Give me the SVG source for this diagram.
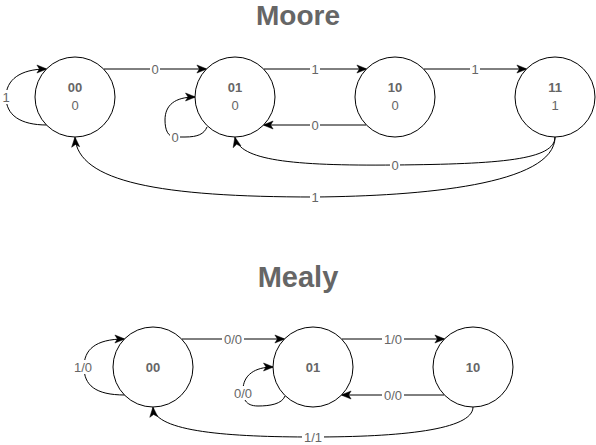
<svg xmlns="http://www.w3.org/2000/svg" width="596" height="445" viewBox="0 0 596 445">
<style>
.title{font-family:"Liberation Sans",Arial,sans-serif;font-weight:bold;font-size:28px;fill:#666666;text-anchor:middle}
.state{fill:#ffffff;stroke:#000000;stroke-width:1}
.nm{font-family:"Liberation Sans",Arial,sans-serif;font-weight:bold;font-size:13px;fill:#666666;text-anchor:middle}
.out{font-family:"Liberation Sans",Arial,sans-serif;font-size:13px;fill:#666666;text-anchor:middle}
.edge{fill:none;stroke:#000000;stroke-width:1}
.lbl{font-family:"Liberation Sans",Arial,sans-serif;font-size:13px;fill:#666666;text-anchor:middle}
.bg{fill:#ffffff}
</style>
<defs>
<marker id="arr" markerUnits="userSpaceOnUse" markerWidth="10" markerHeight="8" refX="9.5" refY="4" orient="auto" overflow="visible">
<path d="M0,0 L10,4 L0,8 L2.5,4 Z" fill="#000000" stroke="#000000" stroke-width="0.5"/>
</marker>
</defs>

<text class="title" x="298" y="25">Moore</text>
<text class="title" x="298" y="287" style="font-size:29px">Mealy</text>

<g id="connectors">
<!-- Moore -->
<path class="edge" d="M103.6,69 L206.4,69" marker-end="url(#arr)"/>
<path class="edge" d="M263.6,69 L366.4,69" marker-end="url(#arr)"/>
<path class="edge" d="M423.6,69 L526.4,69" marker-end="url(#arr)"/>
<path class="edge" d="M366.4,125 L263.6,125" marker-end="url(#arr)"/>
<path class="edge" d="M555,137 C555,160 500,164 395,165 C290,166 240,160 235,137.5" marker-end="url(#arr)"/>
<path class="edge" d="M555,137 C555,185 420,196 315,197 C160,197 78,182 75,137.5" marker-end="url(#arr)"/>
<path class="edge" d="M47,125 C20,125 6,115 6,97 C6,80 20,69 46.4,69" marker-end="url(#arr)"/>
<path class="edge" d="M207,127 C204,134 198,137 185,137 L175,137 C168,137 165,130 165,120 C165,105 175,97 195,97" marker-end="url(#arr)"/>
<!-- Mealy -->
<path class="edge" d="M181.6,339 L284.4,339" marker-end="url(#arr)"/>
<path class="edge" d="M341.6,339 L444.4,339" marker-end="url(#arr)"/>
<path class="edge" d="M444.4,395 L341.6,395" marker-end="url(#arr)"/>
<path class="edge" d="M473,407 C473,430 400,437 313,437 C230,437 155,432 153,407.5" marker-end="url(#arr)"/>
<path class="edge" d="M125,395 C95,395 84,385 84,367 C84,350 95,339 124.4,339" marker-end="url(#arr)"/>
<path class="edge" d="M285,396 C282,404 270,406 258,406 C245,406 243,398 243,390 C243,375 255,367 273,367" marker-end="url(#arr)"/>

<!-- labels -->
<rect class="bg" x="150" y="62" width="10" height="14"/><text class="lbl" x="155" y="73.5">0</text>
<rect class="bg" x="310" y="62" width="10" height="14"/><text class="lbl" x="315" y="73.5">1</text>
<rect class="bg" x="470" y="62" width="10" height="14"/><text class="lbl" x="475" y="73.5">1</text>
<rect class="bg" x="310" y="118" width="10" height="14"/><text class="lbl" x="315" y="129.5">0</text>
<rect class="bg" x="390" y="158" width="10" height="14"/><text class="lbl" x="395" y="169.5">0</text>
<rect class="bg" x="310" y="190" width="10" height="14"/><text class="lbl" x="315" y="201.5">1</text>
<rect class="bg" x="1" y="90" width="10" height="14"/><text class="lbl" x="6" y="101.5">1</text>
<rect class="bg" x="170" y="130" width="10" height="14"/><text class="lbl" x="175" y="141.5">0</text>

<rect class="bg" x="222" y="332" width="22" height="14"/><text class="lbl" x="233" y="343.5">0/0</text>
<rect class="bg" x="382" y="332" width="22" height="14"/><text class="lbl" x="393" y="343.5">1/0</text>
<rect class="bg" x="382" y="388" width="22" height="14"/><text class="lbl" x="393" y="399.5">0/0</text>
<rect class="bg" x="302" y="430" width="22" height="14"/><text class="lbl" x="313" y="441.5">1/1</text>
<rect class="bg" x="72" y="360" width="22" height="14"/><text class="lbl" x="83" y="371.5">1/0</text>
<rect class="bg" x="232" y="386" width="22" height="14"/><text class="lbl" x="243" y="397.5">0/0</text>
</g>

<g id="moore-00"><circle class="state" cx="75" cy="97" r="40"/><text class="nm" x="75" y="91.5">00</text><text class="out" x="75" y="109.5">0</text></g>
<g id="moore-01"><circle class="state" cx="235" cy="97" r="40"/><text class="nm" x="235" y="91.5">01</text><text class="out" x="235" y="109.5">0</text></g>
<g id="moore-10"><circle class="state" cx="395" cy="97" r="40"/><text class="nm" x="395" y="91.5">10</text><text class="out" x="395" y="109.5">0</text></g>
<g id="moore-11"><circle class="state" cx="555" cy="97" r="40"/><text class="nm" x="555" y="91.5">11</text><text class="out" x="555" y="109.5">1</text></g>

<g id="mealy-00"><circle class="state" cx="153" cy="367" r="40"/><text class="nm" x="153" y="371.5">00</text></g>
<g id="mealy-01"><circle class="state" cx="313" cy="367" r="40"/><text class="nm" x="313" y="371.5">01</text></g>
<g id="mealy-10"><circle class="state" cx="473" cy="367" r="40"/><text class="nm" x="473" y="371.5">10</text></g>
</svg>
